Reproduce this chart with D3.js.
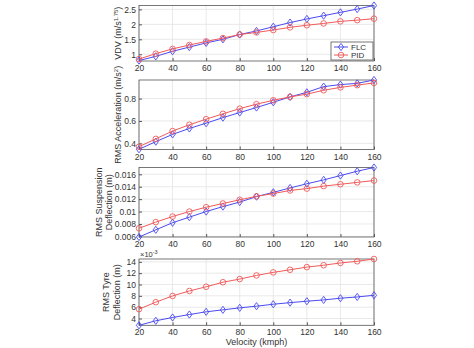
<!DOCTYPE html>
<html>
<head>
<meta charset="utf-8">
<script src="https://cdn.jsdelivr.net/npm/d3@7"></script>
<style>
  body { margin: 0; background: #fff; }
  svg { font-family: "Liberation Sans", Arial, sans-serif; }
</style>
</head>
<body>
<svg id="chart" width="474" height="348"></svg>
<script>
// ---------- data ----------
var velocity = [20, 30, 40, 50, 60, 70, 80, 90, 100, 110, 120, 130, 140, 150, 160];
var xTicks = [20, 40, 60, 80, 100, 120, 140, 160];

var vdvFLC = [0.79, 0.93, 1.10, 1.24, 1.38, 1.50, 1.66, 1.78, 1.92, 2.06, 2.18, 2.29, 2.40, 2.51, 2.63];
var vdvPID = [0.84, 1.02, 1.18, 1.31, 1.43, 1.54, 1.66, 1.73, 1.81, 1.90, 1.97, 2.03, 2.10, 2.14, 2.19];

var accFLC = [0.347, 0.415, 0.48, 0.533, 0.58, 0.63, 0.675, 0.72, 0.767, 0.815, 0.856, 0.907, 0.925, 0.936, 0.966];
var accPID = [0.37, 0.44, 0.51, 0.566, 0.616, 0.664, 0.71, 0.75, 0.785, 0.815, 0.84, 0.874, 0.90, 0.92, 0.94];

var suspFLC = [0.0059, 0.00706, 0.0082, 0.0091, 0.0100, 0.0108, 0.01153, 0.0124, 0.0131, 0.0138, 0.01448, 0.0151, 0.0158, 0.0165, 0.0171];
var suspPID = [0.0073, 0.0083, 0.0092, 0.0100, 0.0107, 0.0113, 0.0119, 0.01245, 0.0129, 0.0134, 0.0137, 0.0141, 0.0144, 0.0147, 0.0150];

// tyre deflection in units of 1e-3 m
var tyreFLC = [2.8, 3.6, 4.18, 4.7, 5.18, 5.53, 5.88, 6.17, 6.52, 6.8, 7.05, 7.28, 7.58, 7.8, 8.1];
var tyrePID = [5.65, 6.88, 7.98, 8.86, 9.6, 10.4, 10.96, 11.6, 12.14, 12.6, 13.07, 13.4, 13.8, 14.1, 14.5];

var vdvTicks = [1, 1.5, 2, 2.5];
var accTicks = [0.4, 0.6, 0.8];
var suspTicks = [0.006, 0.008, 0.01, 0.012, 0.014, 0.016];
var tyreTicks = [4, 6, 8, 10, 12, 14];

var seriesNames = ["FLC", "PID"];
var seriesColors = ["#4b4bf0", "#f05a5a"];

// ---------- layout ----------
var svg = d3.select("#chart");
var left = 139, right = 374;
var axisColor = "#555", textColor = "#333", gridColor = "#e3e3e3";

var xScale = d3.scaleLinear().domain([20, 160]).range([left, right]);

var panels = [
  { flc: vdvFLC, pid: vdvPID, domain: [0.775, 2.63], ticks: vdvTicks, top: 5.5, bottom: 61,
    label: [["VDV (m/s", "1.75", ")"]], labelX: [121], legend: true },
  { flc: accFLC, pid: accPID, domain: [0.345, 0.966], ticks: accTicks, top: 80, bottom: 149.5,
    label: [["RMS Acceleration (m/s", "2", ")"]], labelX: [121] },
  { flc: suspFLC, pid: suspPID, domain: [0.0059, 0.0171], ticks: suspTicks, top: 167.5, bottom: 237,
    label: [["RMS Suspension"], ["Deflection (m)"]], labelX: [101.5, 112] },
  { flc: tyreFLC, pid: tyrePID, domain: [2.8, 14.5], ticks: tyreTicks, top: 259, bottom: 325.3,
    label: [["RMS Tyre"], ["Deflection (m)"]], labelX: [108.5, 119.5], exponent: true }
];

// -------*****--------  draw one panel  --------*****--------
function drawPanel(p) {
  var yScale = d3.scaleLinear().domain(p.domain).range([p.bottom, p.top]);
  var g = svg.append("g");

  // grid
  g.selectAll(".gx").data(xTicks).enter().append("line")
      .attr("x1", function(d) { return xScale(d); })
      .attr("x2", function(d) { return xScale(d); })
      .attr("y1", p.top).attr("y2", p.bottom)
      .style("stroke", gridColor).style("stroke-width", 0.8);
  g.selectAll(".gy").data(p.ticks).enter().append("line")
      .attr("x1", left).attr("x2", right)
      .attr("y1", function(d) { return yScale(d); })
      .attr("y2", function(d) { return yScale(d); })
      .style("stroke", gridColor).style("stroke-width", 0.8);

  // axes (ticks inside, MATLAB style)
  var xAxis = g.append("g")
      .attr("transform", "translate(0," + p.bottom + ")")
      .call(d3.axisBottom(xScale).tickValues(xTicks).tickSizeInner(-3).tickSizeOuter(0).tickPadding(4));
  var yAxis = g.append("g")
      .attr("transform", "translate(" + left + ",0)")
      .call(d3.axisLeft(yScale).tickValues(p.ticks).tickSizeInner(-3).tickSizeOuter(0).tickPadding(3)
            .tickFormat(d3.format("~g")));
  [xAxis, yAxis].forEach(function(a) {
    a.select(".domain").remove();
    a.selectAll("line").style("stroke", axisColor);
    a.selectAll("text").style("fill", textColor).style("font-size", "8.5px");
  });

  // box
  g.append("rect")
      .attr("x", left).attr("y", p.top)
      .attr("width", right - left).attr("height", p.bottom - p.top)
      .style("fill", "none").style("stroke", axisColor).style("stroke-width", 0.8);

  // lines and markers
  [p.flc, p.pid].forEach(function(vals, si) {
    var line = d3.line()
        .x(function(d, i) { return xScale(velocity[i]); })
        .y(function(d) { return yScale(d); });
    g.append("path").datum(vals)
        .attr("d", line)
        .style("fill", "none")
        .style("stroke", seriesColors[si])
        .style("stroke-width", 1);
    drawMarkers(g, vals.map(function(d, i) { return [xScale(velocity[i]), yScale(d)]; }), si);
  });

  // y label
  p.label.forEach(function(parts, li) {
    var t = g.append("text")
        .attr("transform", "translate(" + p.labelX[li] + "," + ((p.top + p.bottom) / 2) + ") rotate(-90)")
        .attr("text-anchor", "middle")
        .style("font-size", "9px")
        .style("fill", textColor);
    t.append("tspan").text(parts[0]);
    if (parts.length > 1) {
      t.append("tspan").attr("dy", -3.5).style("font-size", "6px").text(parts[1]);
      t.append("tspan").attr("dy", 3.5).text(parts[2]);
    }
  });

  if (p.exponent) {
    var e = g.append("text")
        .attr("x", left + 1).attr("y", p.top - 2.5)
        .style("font-size", "7.5px").style("fill", textColor);
    e.append("tspan").text("\u00d710");
    e.append("tspan").attr("dy", -3).style("font-size", "5.5px").text("-3");
  }

  if (p.legend) drawLegend(g);
}

function drawMarkers(g, pts, si) {
  if (si === 0) {
    g.selectAll(null).data(pts).enter().append("path")
        .attr("d", function(d) {
          return "M" + d[0] + "," + (d[1] - 3.6) + "L" + (d[0] + 2.6) + "," + d[1] +
                 "L" + d[0] + "," + (d[1] + 3.6) + "L" + (d[0] - 2.6) + "," + d[1] + "Z";
        })
        .style("fill", "none").style("stroke", seriesColors[si]).style("stroke-width", 0.9);
  } else {
    g.selectAll(null).data(pts).enter().append("circle")
        .attr("cx", function(d) { return d[0]; })
        .attr("cy", function(d) { return d[1]; })
        .attr("r", 2.8)
        .style("fill", "none").style("stroke", seriesColors[si]).style("stroke-width", 0.9);
  }
}

function drawLegend(g) {
  var lx = 331, ly = 42, lw = 42, lh = 18;
  g.append("rect").attr("x", lx).attr("y", ly).attr("width", lw).attr("height", lh)
      .style("fill", "#fff").style("stroke", axisColor).style("stroke-width", 0.8);
  seriesNames.forEach(function(name, si) {
    var yy = ly + 5 + si * 8;
    g.append("line").attr("x1", lx + 3).attr("x2", lx + 17).attr("y1", yy).attr("y2", yy)
        .style("stroke", seriesColors[si]).style("stroke-width", 1);
    drawMarkers(g, [[lx + 10, yy]], si);
    g.append("text").attr("x", lx + 20).attr("y", yy + 2.8)
        .style("font-size", "8px").style("fill", textColor).text(name);
  });
}

panels.forEach(drawPanel);

// x axis label
svg.append("text")
    .attr("x", (left + right) / 2).attr("y", 345)
    .attr("text-anchor", "middle")
    .style("font-size", "9px").style("fill", textColor)
    .text("Velocity (kmph)");
</script>
</body>
</html>
